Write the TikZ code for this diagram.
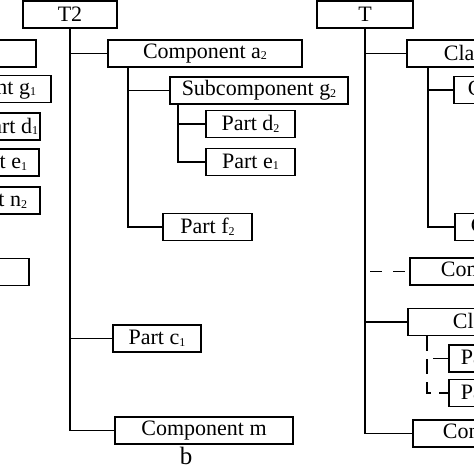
\documentclass[tikz,border=0pt]{standalone}
\usepackage{fontspec}
\setmainfont{Liberation Serif}
\newcommand\subx[1]{\raisebox{-1.5pt}{\fontsize{12}{12}\selectfont #1}}
\begin{document}
\begin{tikzpicture}[x=1pt,y=-1pt,
  bx/.style={draw, line width=1.8pt, minimum height=27pt, inner sep=0pt, font=\fontsize{22}{24}\selectfont},
  ln/.style={line width=1.8pt},
  dl/.style={line width=1.8pt, dash pattern=on 15pt off 8pt},
  ]
\clip (0,0) rectangle (474,474);
\useasboundingbox (0,0) rectangle (474,474);
% left panel (cut)
\node[bx, anchor=east, minimum width=240pt] (L1) at (37,53.5) {Component a\subx{1}};
\node[bx, anchor=east, inner xsep=15pt] (L2) at (52,89) {Subcomponent g\subx{1}};
\node[bx, anchor=east, inner xsep=2pt] (L3) at (41,126.5) {Part d\subx{1}};
\node[bx, anchor=east, inner xsep=12pt] (L4) at (40,162.5) {Part e\subx{1}};
\node[bx, anchor=east, inner xsep=13pt] (L5) at (41,200.5) {Part n\subx{2}};
\node[bx, anchor=east, minimum width=200pt] (L6) at (30,272) {Part f\subx{1}};
% middle tree T2
\node[bx, minimum width=94pt] (T2) at (70,14.5) {T2};
\node[bx, minimum width=194pt] (A2) at (205,53.5) {Component a\subx{2}};
\node[bx, minimum width=178pt] (G2) at (259,90.5) {Subcomponent g\subx{2}};
\node[bx, minimum width=89pt] (D2) at (250.5,124) {Part d\subx{2}};
\node[bx, minimum width=89pt] (E1) at (250.5,162) {Part e\subx{1}};
\node[bx, minimum width=89pt] (F2) at (207.5,227) {Part f\subx{2}};
\node[bx, minimum width=88pt] (C1) at (157,338.5) {Part c\subx{1}};
\node[bx, minimum width=178pt] (M) at (204,430.5) {Component m};
\node[font=\fontsize{25}{27}\selectfont] (lab) at (186,456) {b};
\draw[ln] (T2.south) |- (A2.west);
\draw[ln] (T2.south) |- (C1.west);
\draw[ln] (T2.south) |- (M.west);
\draw[ln] ([xshift=21pt]A2.south west) |- (G2.west);
\draw[ln] ([xshift=21pt]A2.south west) |- (F2.west);
\draw[ln] ([xshift=9pt]G2.south west) |- (D2.west);
\draw[ln] ([xshift=9pt]G2.south west) |- (E1.west);
% right tree T
\node[bx, minimum width=96pt] (T) at (365,14.5) {T};
\node[bx, anchor=west, inner xsep=37pt] (R1) at (406,53.5) {Class a\subx{1}};
\node[bx, anchor=west, inner xsep=14pt] (R2) at (453,90) {Component b\subx{1}};
\node[bx, anchor=west, inner xsep=16pt] (R3) at (454,227) {Component b\subx{2}};
\node[bx, anchor=west, inner xsep=31pt] (R4) at (409,271.5) {Component n};
\node[bx, anchor=west, inner xsep=45pt] (R5) at (407,322) {Class a\subx{2}};
\node[bx, anchor=west, inner xsep=12pt] (R6) at (448,358.5) {Part c\subx{1}};
\node[bx, anchor=west, inner xsep=12pt] (R7) at (448,393) {Part c\subx{2}};
\node[bx, anchor=west, inner xsep=30pt] (R8) at (412,433.5) {Component m};
\draw[ln] (T.south) |- (R1.west);
\draw[ln] (T.south) |- (R5.west);
\draw[ln] (T.south) |- (R8.west);
\draw[ln, dash pattern=on 12pt off 11pt, dash phase=18pt] (T.south |- R4.west) -- (R4.west);
\draw[ln] ([xshift=22pt]R1.south west) |- (R2.west);
\draw[ln] ([xshift=22pt]R1.south west) |- (R3.west);
\draw[dl] ([xshift=20pt]R5.south west) |- (R7.west);
\draw[dl, dash phase=17pt] ([xshift=20pt]R5.south west |- R6.west) -- (R6.west);
\end{tikzpicture}
\end{document}
